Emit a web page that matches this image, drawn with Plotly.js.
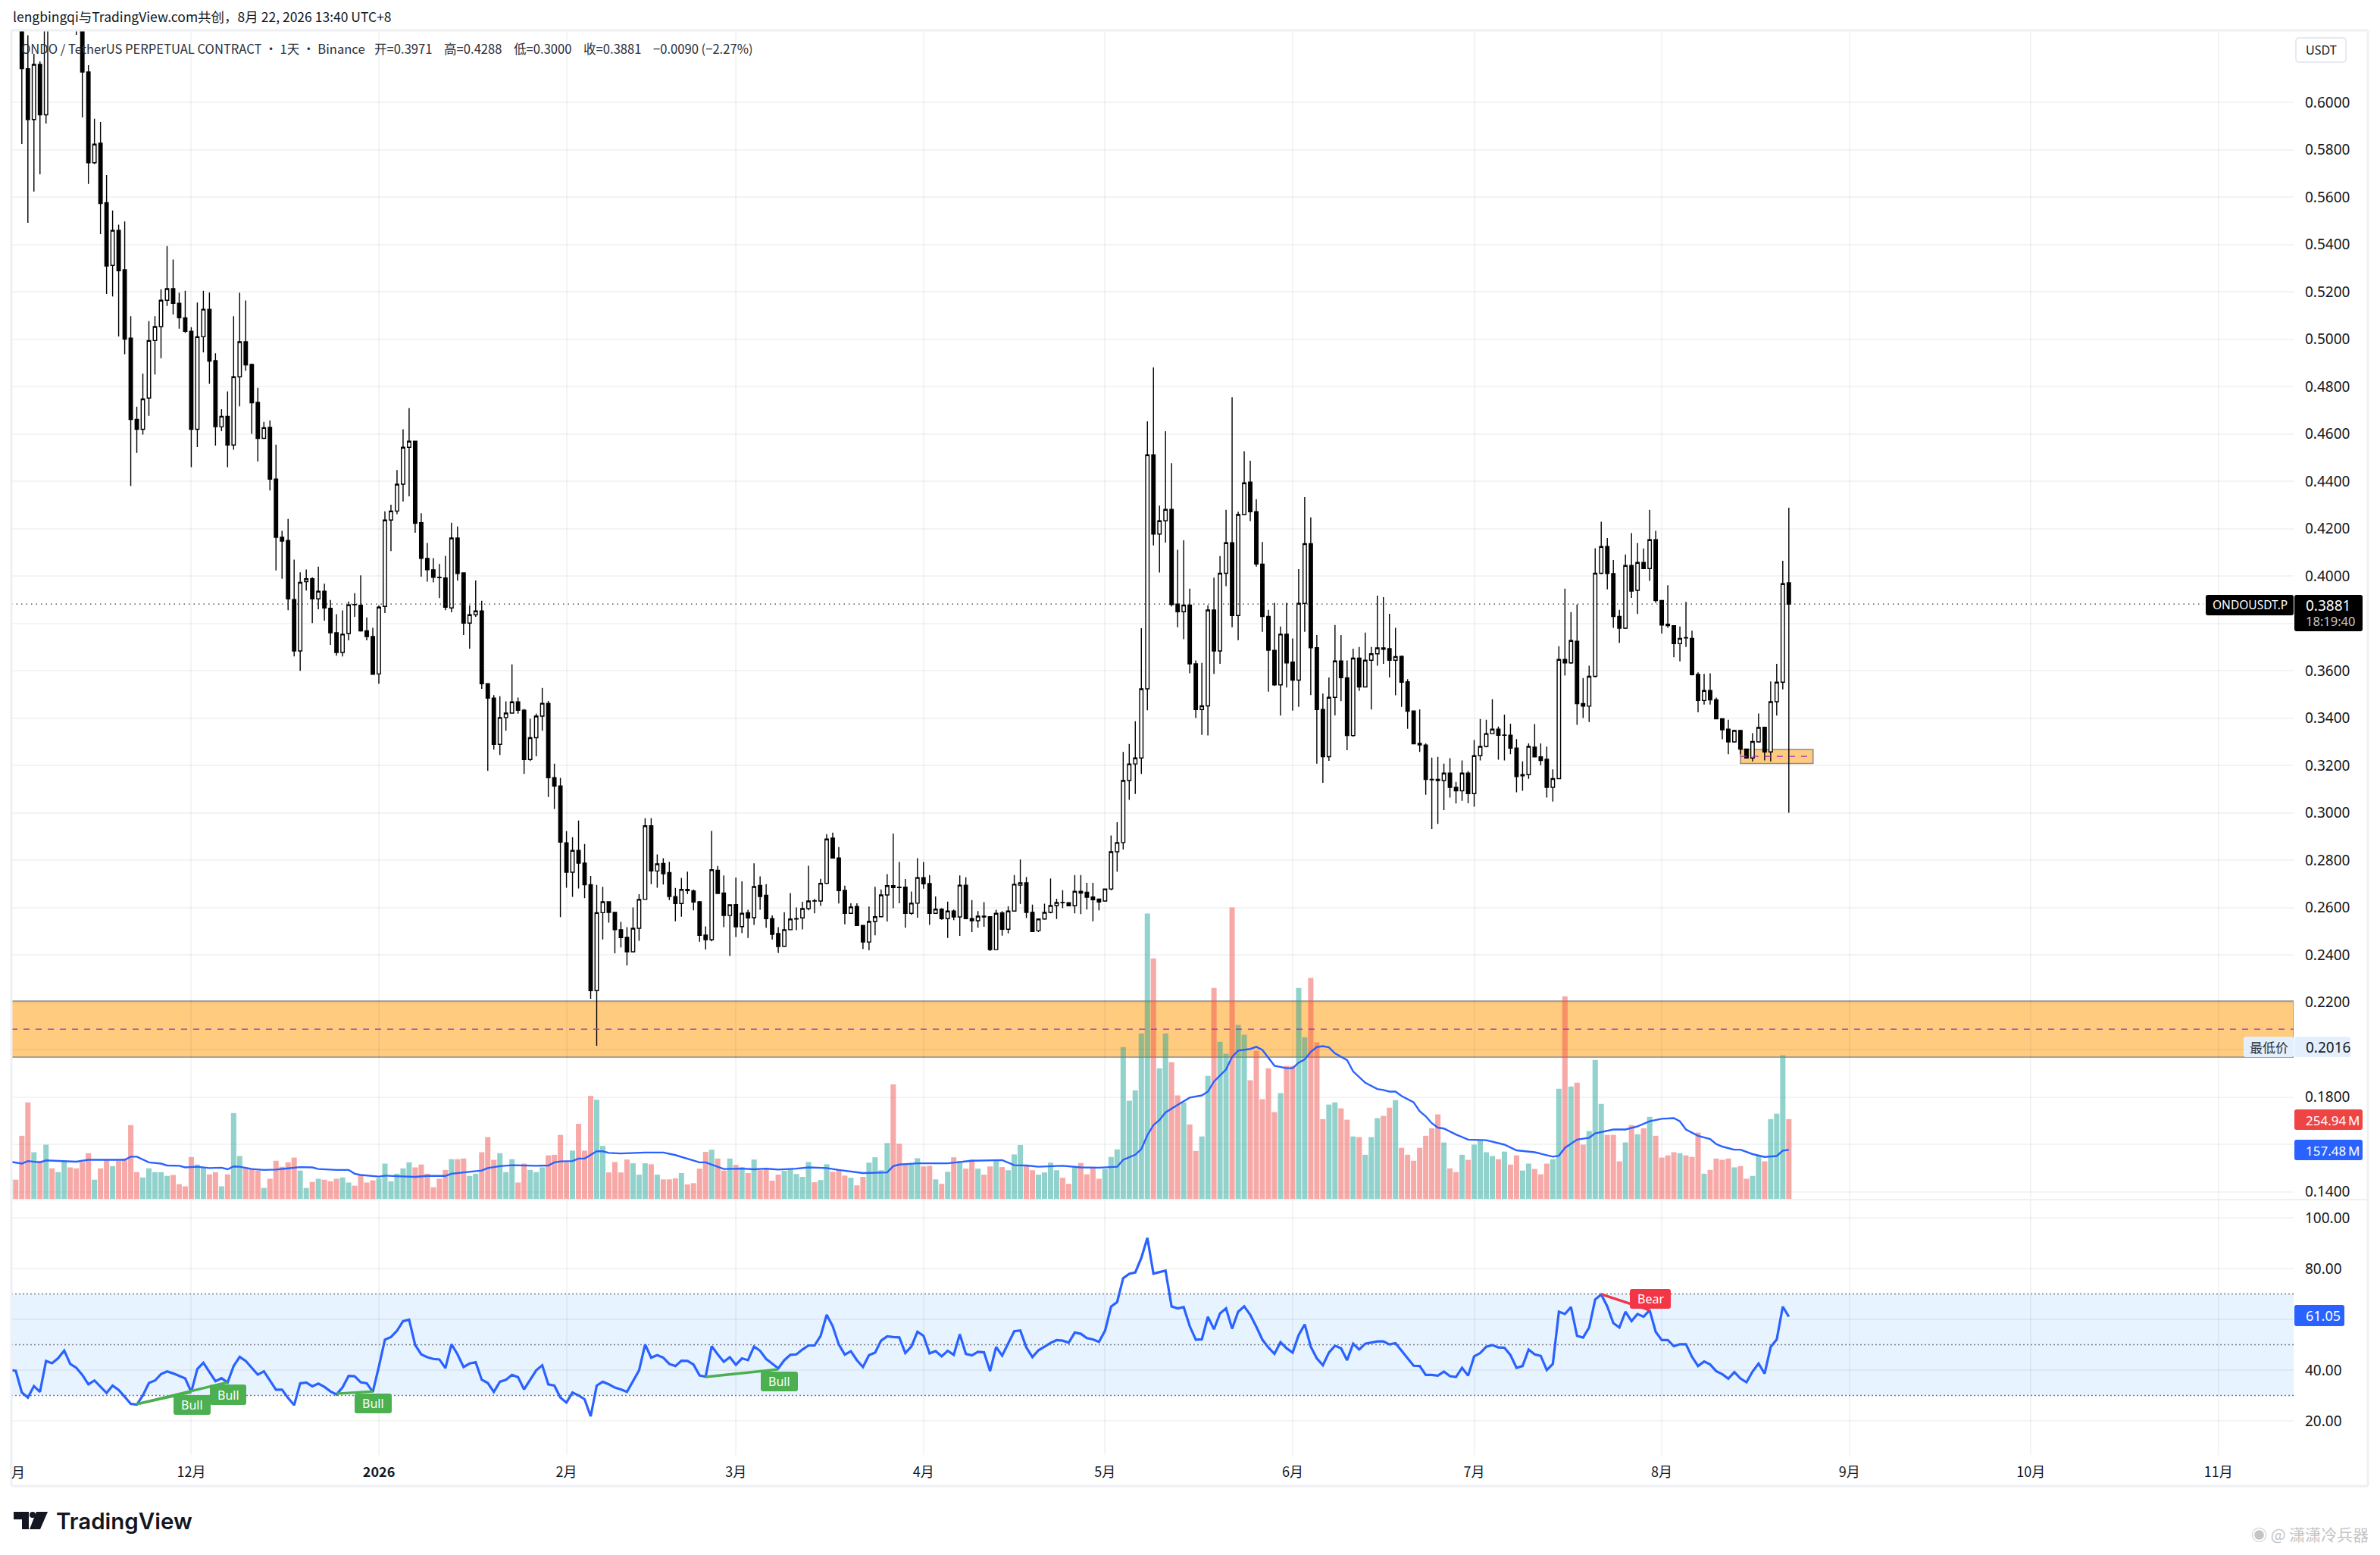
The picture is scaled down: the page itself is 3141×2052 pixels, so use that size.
<!DOCTYPE html>
<html><head><meta charset="utf-8"><script src="https://cdn.plot.ly/plotly-3.0.1.min.js"></script>
<style>html,body{margin:0;padding:0;background:#fff}#c{width:3141px;height:2052px}</style></head>
<body><div id="c"></div><script>
const firstDate='2025-11-01';
const opens=[.64,.65,.64,.6142,.5927,.616,.5947,.67,.65,.665,
.68,.66,.645,.6128,.5745,.5827,.5576,.5311,.5459,.5293,
.5004,.4661,.4619,.4751,.4994,.5053,.5164,.5213,.5151,.509,
.5033,.4619,.501,.5126,.4909,.463,.4674,.4553,.4841,.4989,
.4893,.4733,.4581,.4627,.4409,.4163,.415,.39,.3683,.3976,
.3988,.3903,.3935,.3863,.376,.3677,.3757,.3879,.3876,.3768,
.3744,.3586,.3871,.4236,.4274,.4387,.4543,.4569,.4225,.4074,
.4026,.3994,.3991,.3865,.416,.4013,.3801,.3836,.3852,.3545,
.3484,.3289,.3402,.3421,.3468,.3433,.3225,.3317,.3408,.3462,
.3148,.3113,.2873,.2749,.2841,.2787,.2696,.2249,.2578,.2624,
.2579,.2506,.2474,.2413,.2512,.2634,.2945,.2754,.2786,.2747,
.2646,.2617,.2676,.267,.2624,.2483,.2464,.2757,.2661,.2566,
.2612,.2519,.2578,.2557,.2693,.2651,.2553,.249,.2436,.2506,
.2551,.2556,.2595,.2628,.2627,.2702,.2893,.2809,.2672,.2575,
.2604,.2524,.2454,.2541,.2561,.2653,.2692,.2686,.2686,.2575,
.2618,.2726,.2701,.2575,.2593,.2553,.2585,.256,.2694,.2553,
.2544,.2563,.2561,.2422,.2577,.2508,.2585,.2694,.2704,.2579,
.2502,.2551,.2579,.2608,.2621,.262,.2607,.2668,.2664,.2644,
.2635,.2627,.2678,.2835,.2874,.3136,.3206,.3231,.3523,.4511,
.4177,.4233,.4281,.3881,.3849,.3877,.3629,.3436,.3451,.3856,
.3683,.4011,.414,.3833,.4259,.4396,.4271,.405,.3829,.3686,
.354,.3754,.3636,.356,.3884,.4136,.3697,.3436,.3237,.3487,
.3641,.357,.3326,.3653,.3531,.3644,.3671,.3696,.3693,.3644,
.366,.3553,.343,.3293,.3286,.3141,.3141,.3136,.3167,.3107,
.3093,.3167,.3081,.3241,.328,.3334,.3353,.3327,.3327,.3273,
.3156,.3161,.3277,.3236,.3226,.3107,.3144,.3647,.3633,.3724,
.3461,.345,.3576,.4011,.4124,.401,.3829,.3779,.4044,.3939,
.4057,.4031,.4153,.3896,.3796,.379,.3714,.3739,.3736,.3584,
.3474,.3516,.3477,.3397,.3353,.3299,.3347,.3269,.3231,.3299,
.3361,.3257,.3469,.3551,.3971];
const highs=[.66,.66,.66,.6283,.6205,.6173,.67,.69,.675,.69,
.7,.675,.66,.6157,.593,.5917,.5693,.5543,.5483,.5497,
.5097,.4714,.4854,.5076,.5097,.521,.5393,.5336,.5196,.5204,
.505,.5154,.5204,.5197,.494,.4704,.4779,.5097,.5196,.5163,
.4897,.4794,.465,.4657,.4554,.419,.4241,.4069,.4015,.4027,
.3994,.4039,.3967,.3898,.3838,.3854,.3892,.3927,.4002,.3825,
.3781,.3876,.4273,.4301,.4447,.4619,.4709,.457,.4265,.4139,
.4075,.405,.4085,.4225,.4209,.4013,.3875,.3981,.3895,.3545,
.3497,.3492,.347,.3626,.3486,.3438,.3397,.3418,.3527,.3472,
.3207,.3147,.2922,.2897,.2967,.2868,.2733,.2695,.2687,.2626,
.258,.2539,.2517,.26,.2656,.2977,.2977,.2824,.2808,.2793,
.2682,.2725,.2751,.2676,.2627,.252,.2923,.2775,.2735,.2612,
.2726,.271,.259,.2786,.2731,.2698,.2566,.2517,.258,.2661,
.26,.2624,.2776,.2637,.2721,.291,.2916,.2855,.2692,.2618,
.2618,.2524,.2604,.2687,.2676,.2741,.2912,.2792,.272,.2667,
.2808,.2792,.2737,.2646,.2597,.2625,.2591,.2735,.2727,.2631,
.2585,.2622,.2562,.259,.2585,.2605,.2737,.2802,.2729,.2612,
.2553,.2616,.2722,.2637,.2673,.262,.2737,.2737,.2704,.2704,
.2637,.2678,.2904,.296,.3257,.329,.3386,.3779,.4653,.4881,
.4297,.4611,.4476,.411,.415,.3946,.3643,.3633,.3876,.3993,
.4084,.4279,.4754,.4271,.4526,.4486,.4324,.4143,.3857,.3886,
.3786,.3886,.3736,.4029,.4333,.4247,.375,.3503,.3571,.3793,
.375,.3643,.3693,.37,.3761,.37,.3917,.391,.384,.3781,
.3664,.3564,.343,.3436,.3293,.3233,.3236,.3207,.323,.313,
.3221,.3176,.3307,.3396,.3393,.3479,.3364,.3414,.3376,.3311,
.3217,.3293,.3374,.3293,.3279,.3183,.3703,.3946,.3847,.3879,
.3569,.3621,.4117,.4229,.416,.4067,.3857,.409,.4181,.4139,
.4116,.4279,.419,.3896,.3961,.379,.3786,.389,.3769,.3593,
.3586,.3589,.3486,.3397,.3393,.335,.335,.3271,.3336,.3419,
.3363,.3554,.3629,.4064,.4288];
const lows=[.635,.635,.5824,.5491,.5623,.5696,.591,.645,.64,.655,
.655,.6285,.5936,.5655,.5739,.5443,.519,.518,.5011,.4936,
.438,.4519,.4597,.4676,.485,.4919,.514,.5104,.5044,.5026,
.4459,.4544,.4944,.4811,.455,.4611,.4459,.4533,.4716,.4866,
.46,.4483,.4579,.4361,.4023,.3988,.3855,.366,.3599,.3938,
.3801,.3859,.3811,.3709,.3663,.366,.3728,.3827,.3765,.3728,
.3582,.3545,.3843,.4105,.4261,.4314,.4336,.4182,.3997,.3976,
.3973,.3906,.3855,.3846,.398,.375,.3693,.3827,.3523,.3177,
.3266,.3244,.3346,.3418,.3418,.3164,.3218,.3238,.3346,.3066,
.3016,.2559,.2683,.2645,.268,.2639,.2214,.2016,.2465,.2536,
.2406,.2431,.2355,.2412,.2459,.2634,.2698,.2683,.2697,.2631,
.2542,.2561,.2657,.2588,.2455,.2422,.2457,.2658,.2517,.2395,
.2475,.2492,.2471,.2526,.259,.2514,.2465,.2408,.2435,.2505,
.2504,.2507,.2588,.2575,.2606,.2698,.2808,.2617,.2529,.2573,
.2523,.2425,.2419,.2482,.256,.2541,.2597,.2618,.2514,.2569,
.2557,.2679,.2526,.2574,.2548,.2471,.2546,.248,.2552,.2496,
.2514,.2518,.2416,.2421,.2481,.249,.2584,.2615,.2555,.2496,
.2496,.2548,.2575,.2551,.2597,.2606,.2575,.2572,.2591,.2542,
.2588,.2624,.2673,.2751,.2845,.3054,.3079,.3164,.3433,.4129,
.4014,.4141,.3871,.3783,.3733,.3589,.34,.3329,.3326,.3586,
.3629,.3957,.3783,.3729,.4257,.4231,.4039,.3764,.3511,.3536,
.341,.3529,.3431,.3447,.3764,.3497,.3207,.3126,.3219,.3411,
.3471,.3264,.3321,.3514,.3529,.3436,.3621,.3629,.3571,.3496,
.3447,.3354,.3289,.3257,.3076,.2931,.2953,.3011,.3064,.3039,
.305,.304,.3026,.3221,.3276,.3333,.3224,.3221,.3247,.3086,
.3093,.3143,.3236,.32,.3064,.3047,.3144,.3579,.3629,.3371,
.34,.3383,.3571,.4007,.3943,.3781,.3717,.3776,.3907,.3839,
.4029,.3979,.3886,.3757,.3781,.3657,.3639,.37,.358,.3424,
.3457,.3457,.3397,.331,.3247,.3296,.3247,.3231,.3217,.3296,
.3221,.3217,.341,.3521,.3];
const closes=[.65,.64,.6142,.5927,.616,.5947,.66,.65,.665,.68,
.66,.645,.6128,.5745,.5823,.5573,.5309,.5459,.5289,.5,
.4661,.4619,.4747,.4994,.5053,.5164,.5213,.5151,.509,.5033,
.4619,.501,.5126,.4907,.463,.4674,.4553,.4841,.4989,.4891,
.4731,.4581,.4626,.4409,.4163,.4147,.3903,.3683,.3973,.3988,
.3903,.3935,.3865,.376,.3677,.3754,.3878,.3878,.3768,.3744,
.3585,.3868,.4236,.4274,.4387,.4543,.4569,.4222,.4074,.4026,
.3994,.3993,.3868,.416,.401,.3801,.3836,.3852,.3545,.3484,
.3289,.3402,.3421,.3468,.3433,.3225,.3317,.3408,.3462,.3148,
.3113,.2876,.2749,.2841,.2787,.2696,.2249,.2578,.2624,.2579,
.2506,.2473,.2413,.2512,.2634,.2945,.2754,.2784,.2742,.2646,
.2617,.2676,.2671,.2623,.2482,.2464,.2759,.2659,.2566,.2611,
.2518,.2575,.2556,.2688,.2646,.2553,.2486,.2435,.2506,.2551,
.2553,.2595,.2627,.2627,.2702,.2889,.2809,.2671,.2575,.2602,
.2524,.2454,.2541,.2561,.2653,.2692,.2684,.2684,.2575,.2618,
.2726,.27,.2575,.2593,.2553,.2585,.256,.2694,.2553,.2544,
.2563,.256,.2422,.2575,.2508,.2585,.2698,.2704,.2579,.2498,
.2551,.2579,.2608,.2621,.262,.2607,.2668,.2661,.2643,.2633,
.2623,.2678,.2835,.2874,.3136,.3206,.3231,.3523,.4511,.4177,
.4233,.4281,.3879,.3849,.3877,.3629,.3436,.3451,.3856,.3683,
.4011,.414,.3833,.4259,.4393,.4271,.405,.3829,.3686,.354,
.3754,.3633,.356,.3884,.4136,.3697,.3436,.3237,.3487,.3641,
.357,.3326,.3653,.3531,.3644,.3671,.3696,.369,.3644,.3659,
.3551,.3429,.3291,.3286,.3141,.3139,.3136,.3167,.3107,.3093,
.3167,.3081,.3241,.328,.3334,.3353,.3327,.3328,.3273,.3153,
.3161,.328,.3236,.3221,.3107,.3144,.3647,.3633,.3727,.3461,
.345,.3576,.4011,.4124,.401,.3829,.3779,.4044,.3936,.4057,
.4031,.4153,.3896,.3793,.379,.3714,.3736,.3738,.3583,.3474,
.3516,.3477,.3397,.335,.3299,.3347,.3269,.3231,.3301,.336,
.3257,.3469,.3551,.3967,.3881];
const volumes=[70,63,202,308,150,123,174,99,87,120,
102,99,119,147,63,99,126,106,123,130,
236,87,70,99,87,87,75,78,49,42,
135,111,102,80,87,42,80,274,138,102,
99,92,37,66,123,104,118,133,92,37,
56,66,63,58,66,70,54,44,78,54,
61,68,114,58,82,99,118,102,111,82,
39,66,94,128,128,130,75,82,150,198,
126,147,87,128,54,114,94,87,102,140,
142,205,118,155,240,155,328,316,170,86,
119,86,127,115,79,115,112,79,64,64,
67,84,48,52,98,151,158,130,92,130,
110,103,84,127,93,96,60,79,91,97,
81,72,119,55,62,112,88,94,76,69,
45,72,117,134,93,179,365,177,110,115,
131,105,107,64,50,88,134,122,98,127,
98,79,105,127,103,93,143,173,106,93,
79,86,117,93,69,50,103,116,80,102,
66,97,135,159,483,313,346,526,906,764,
416,526,435,330,308,238,154,200,392,670,
500,462,925,553,522,378,471,318,416,277,
337,423,423,670,514,702,498,255,301,308,
289,253,200,198,142,198,258,265,291,315,
164,142,123,164,202,226,270,181,99,87,
142,126,174,188,150,138,128,152,111,140,
92,114,97,80,114,128,351,644,358,370,
174,217,442,303,205,205,121,181,236,207,
226,262,202,133,140,150,147,140,135,212,
82,94,130,126,130,102,106,66,75,140,
121,255,272,457,254.94];
const rsi=[40.1,39.7,31.2,29.2,33.7,31.4,43.6,42.7,44.7,47.7,
42.4,40.9,38.1,34.4,35.9,33.4,31.0,33.9,32.2,29.5,
26.7,26.4,30.0,34.9,35.9,38.4,39.5,38.7,37.7,36.7,
31.4,40.4,42.9,39.1,35.6,36.8,35.1,41.6,45.2,43.6,
40.9,38.2,39.5,36.1,32.3,32.3,29.0,26.2,34.8,35.1,
33.6,34.7,33.4,31.6,30.4,33.2,37.7,37.6,35.2,34.8,
31.4,41.4,52.0,53.0,55.5,59.3,59.9,49.9,46.2,45.1,
44.4,44.2,40.8,50.2,46.2,41.2,42.6,43.1,36.2,34.9,
31.4,35.4,36.2,38.1,37.2,32.4,36.2,39.9,41.9,34.4,
33.9,29.2,27.2,31.2,30.0,28.5,21.8,33.9,35.4,34.4,
33.1,32.4,31.4,35.9,39.9,50.1,44.9,45.9,44.9,42.4,
41.6,43.7,43.6,42.2,37.9,37.4,49.4,46.2,43.3,45.1,
42.1,44.6,43.9,49.3,47.6,44.4,42.4,40.7,43.9,46.0,
46.2,48.1,49.7,49.7,53.5,61.8,57.3,50.1,46.1,47.4,
43.9,41.2,45.9,46.9,51.6,53.3,53.0,52.9,46.7,49.3,
55.1,53.5,46.6,47.5,45.4,47.6,46.0,54.1,46.4,45.8,
47.2,47.0,39.6,49.1,45.7,50.3,55.3,55.6,48.9,45.1,
47.8,49.2,50.7,51.8,51.6,50.8,54.8,54.3,52.6,52.1,
51.1,55.5,65.0,66.8,76.2,77.9,78.5,84.2,92.1,78.0,
78.6,79.2,65.1,64.3,64.8,57.3,52.0,52.1,61.0,56.1,
62.3,64.3,56.3,63.0,65.1,61.8,57.1,52.0,48.9,46.4,
51.0,48.6,46.9,53.8,58.0,49.2,44.6,41.9,46.9,49.6,
48.6,43.9,50.4,48.1,50.4,50.8,51.3,51.3,50.1,50.6,
47.6,44.9,41.7,41.6,38.1,38.1,37.8,39.4,37.6,37.3,
40.9,37.8,45.4,46.7,49.2,49.9,48.9,48.8,45.9,40.9,
41.6,48.1,46.2,45.6,40.0,42.4,63.0,62.1,64.8,53.5,
52.8,56.8,67.8,69.8,65.1,58.5,56.8,63.0,59.3,62.1,
61.0,63.6,55.1,51.8,51.8,49.4,50.2,50.2,45.2,41.6,
43.4,42.2,39.6,38.4,36.6,39.2,36.7,35.2,39.4,42.6,
38.6,49.1,52.1,65.0,61.05];
const maDays=[0,2,3,5,6,8,11,13,16,19,20,21,23,25,26,28,29,31,33,35,36,37,38,40,42,44,46,48,50,51,54,56,57,58,61,62,64,67,69,72,73,77,78,79,81,83,87,89,90,91,93,94,95,97,98,99,101,105,108,110,112,114,115,117,118,121,123,125,127,130,132,135,137,141,145,146,147,150,153,155,159,164,166,168,170,174,177,180,183,184,186,187,188,189,190,191,193,195,197,198,199,201,202,203,205,206,207,209,211,212,213,214,215,216,217,218,219,221,222,224,226,227,228,229,230,232,233,234,235,236,237,239,241,244,247,249,252,255,256,257,259,261,262,265,267,269,271,273,275,276,277,279,281,282,283,285,286,288,290,292,293,294];
const maValues=[120,114,122,118,124,122,120,126,126,126,136,136,118,114,108,107,102,104,100,101,96,105,104,97,94,95,99,103,102,97,94,94,82,78,73,76,74,72,75,75,82,90,92,100,106,109,107,108,118,121,122,130,130,153,153,148,146,149,149,141,130,118,118,104,97,98,96,98,95,98,102,100,94,84,86,106,111,115,116,115,123,125,109,108,104,107,102,101,104,126,142,160,204,236,252,276,300,323,330,342,374,412,452,472,477,484,474,424,416,416,434,444,468,483,486,482,463,442,406,370,350,347,342,342,328,308,280,264,242,228,225,206,190,188,174,156,150,136,139,164,190,196,210,222,222,232,248,256,258,248,222,202,192,176,168,158,158,144,135,138,155,157.48];
const priceTicks=[.60,.58,.56,.54,.52,.50,.48,.46,.44,.42,.40,.38,.36,.34,.32,.30,.28,.26,.24,.22,.20,.18,.16,.14];
const hiddenPriceTicks=[.38,.20,.16];
const rsiTicks=[100,80,60,40,20];
const hiddenRsiTicks=[60];
const monthTickDates=['2025-12-01','2026-01-01','2026-02-01','2026-03-01','2026-04-01','2026-05-01','2026-06-01','2026-07-01','2026-08-01','2026-09-01','2026-10-01','2026-11-01'];
const monthTickLabels=['12月','<b>2026</b>','2月','3月','4月','5月','6月','7月','8月','9月','10月','11月'];
const bigZone=[.1968,.2086,.2205];
const smallZone=[.3208,.3238,.3267];
const smallZoneDates=['2026-08-14','2026-08-26'];
const lastPrice=.3881;
const divergences=[
 {days:[21,30],vals:[26.6,31.3],color:'#4caf50'},
 {days:[21,36],vals:[26.6,35.2],color:'#4caf50'},
 {days:[54,60],vals:[30.7,31.6],color:'#4caf50'},
 {days:[115,127],vals:[37.3,40.3],color:'#4caf50'},
 {days:[263,271],vals:[69.9,63.6],color:'#f23645'}];

const W=3141,H=2052,L=15,R=3027,T=40,B=1920,SEP=1583;
const px=x=>(x-L)/(R-L), py=y=>(B-y)/(B-T);
const dates=opens.map((_,i)=>new Date(Date.parse(firstDate+'T00:00:00Z')+i*864e5).toISOString().slice(0,10));
const xRange=['2025-11-01 06:30','2026-11-13 10:00'];
const sansCJK='"Noto Sans CJK SC","Noto Sans",sans-serif';
const tickFont='"Noto Sans","Noto Sans CJK SC",sans-serif';
const gridCol='rgba(42,46,57,.055)';

const traces=[
 {type:'bar',x:dates,y:volumes,xaxis:'x',yaxis:'y',marker:{color:closes.map((c,i)=>c>=opens[i]?'rgba(38,166,154,.5)':'rgba(239,83,80,.5)'),line:{width:0}},hoverinfo:'skip'},
 {type:'scatter',mode:'lines',x:maDays.map(d=>dates[d]),y:maValues,xaxis:'x',yaxis:'y',line:{color:'#2962ff',width:2.4},hoverinfo:'skip'},
 {type:'candlestick',x:dates,open:opens,high:highs,low:lows,close:closes,xaxis:'x',yaxis:'y2',whiskerwidth:0,
  increasing:{line:{color:'#000',width:1.4},fillcolor:'#fff'},decreasing:{line:{color:'#000',width:1.4},fillcolor:'#000'},hoverinfo:'skip'},
 {type:'scatter',mode:'lines',x:dates,y:rsi,xaxis:'x',yaxis:'y3',line:{color:'#2962ff',width:3.2},hoverinfo:'skip'}
];
divergences.forEach(d=>traces.push({type:'scatter',mode:'lines',x:d.days.map(i=>dates[i]),y:d.vals,xaxis:'x',yaxis:'y3',line:{color:d.color,width:3.4},hoverinfo:'skip'}));

const shapes=[];
const zone=(x0,x1,z)=>{
 shapes.push({type:'rect',xref:'x',yref:'y2',x0,x1,y0:z[0],y1:z[2],fillcolor:'rgba(255,152,0,.5)',line:{color:'#8c8c8c',width:1.6},layer:'below'});
 shapes.push({type:'line',xref:'x',yref:'y2',x0,x1,y0:z[1],y1:z[1],line:{color:'#a62bc4',width:1.2,dash:'8px,8px'},layer:'above'});
};
zone(xRange[0],xRange[1],bigZone);
zone(smallZoneDates[0],smallZoneDates[1],smallZone);
shapes.push({type:'rect',xref:'x',yref:'y3',x0:xRange[0],x1:xRange[1],y0:30,y1:70,fillcolor:'rgba(33,150,243,.11)',line:{width:0},layer:'below'});
[70,50,30].forEach(v=>shapes.push({type:'line',xref:'x',yref:'y3',x0:xRange[0],x1:xRange[1],y0:v,y1:v,line:{color:'#787b86',width:1.5,dash:'2px,3px'},layer:'between'}));
shapes.push({type:'line',xref:'paper',yref:'y2',x0:0,x1:px(2908),y0:lastPrice,y1:lastPrice,line:{color:'#333',width:1.2,dash:'1.5px,5px'},layer:'above'});
const frame=(x0,y0,x1,y1,w)=>shapes.push({type:'line',xref:'paper',yref:'paper',x0:px(x0),x1:px(x1),y0:py(y0),y1:py(y1),line:{color:'#eef0f4',width:w},layer:'above'});
frame(L,T,3125,T,3);frame(L,1961,3125,1961,3);frame(L,T,L,1961,3);frame(3125,T,3125,1961,3);frame(L,SEP,3125,SEP,2);
const rr=(x0,y0,x1,y1,r,fill,line)=>shapes.push({type:'path',xref:'paper',yref:'paper',layer:'above',fillcolor:fill,line:line||{width:0},
 path:`M${px(x0+r)},${py(y0)} L${px(x1-r)},${py(y0)} Q${px(x1)},${py(y0)} ${px(x1)},${py(y0+r)} L${px(x1)},${py(y1-r)} Q${px(x1)},${py(y1)} ${px(x1-r)},${py(y1)} L${px(x0+r)},${py(y1)} Q${px(x0)},${py(y1)} ${px(x0)},${py(y1-r)} L${px(x0)},${py(y0+r)} Q${px(x0)},${py(y0)} ${px(x0+r)},${py(y0)} Z`});
const poly=(pts,fill)=>shapes.push({type:'path',xref:'paper',yref:'paper',layer:'above',fillcolor:fill,line:{width:0},path:'M'+pts.map(p=>px(p[0])+','+py(p[1])).join(' L')+' Z'});

const ann=[];
const text=(x,y,t,o={})=>ann.push(Object.assign({xref:'paper',yref:'paper',x:px(x),y:py(y),text:t,showarrow:false,xanchor:'left',yanchor:'middle',align:'left',
 font:{family:o.family||tickFont,size:o.size||19,color:o.color||'#131722',weight:o.weight||400}},o.xanchor?{xanchor:o.xanchor}:{}));
const tag=(x0,y0,x1,y1,r,fill,t,o={})=>{rr(x0,y0,x1,y1,r,fill,o.line);text((x0+x1)/2,(y0+y1)/2,t,Object.assign({xanchor:'center'},o));};

text(15,22,'lengbingqi与TradingView.com共创，8月 22, 2026 13:40 UTC+8',{family:sansCJK,size:17.5,color:'#131722'});
const legendOpts={family:sansCJK,size:16.6,color:'#2a2e39'};
text(26,64,'ONDO / TetherUS PERPETUAL CONTRACT · 1天 · Binance',legendOpts);
text(492,64,'开=0.3971',legendOpts);
text(584,64,'高=0.4288',legendOpts);
text(676,64,'低=0.3000',legendOpts);
text(768,64,'收=0.3881',legendOpts);
text(860,64,'−0.0090 (−2.27%)',legendOpts);
tag(3030,50,3096,82,4,'#fff','USDT',{size:16,line:{color:'#e0e3eb',width:1.5}});
tag(2911,785,3027,812,3,'#000','ONDOUSDT.P',{size:15.5,color:'#fff'});
rr(3028,785,3118,833,3,'#000');
text(3041,799,'0.3881',{size:19,color:'#fff'});
text(3041,819,'18:19:40',{size:16.5,color:'#c8c9cc'});
tag(2961,1368,3027,1395,3,'#e3effd','最低价',{family:sansCJK,size:17,color:'#2a2e39'});
rr(3028,1368,3102,1395,3,'#e3effd');
text(3041,1382,'0.2016',{size:19,color:'#131722'});
rr(3028,1464,3118,1491,3,'#ef4444');
text(3041,1478,'254.94\u2009M',{size:17,color:'#fff'});
rr(3028,1504,3118,1531,3,'#2962ff');
text(3041,1518,'157.48\u2009M',{size:17,color:'#fff'});
rr(3028,1722,3094,1750,3,'#2962ff');
text(3041,1736,'61.05',{size:18,color:'#fff'});
tag(229,1841,278,1867,3,'#4caf50','Bull',{size:16,color:'#fff'});
tag(277,1827,325,1854,3,'#4caf50','Bull',{size:16,color:'#fff'});
tag(468,1839,517,1865,3,'#4caf50','Bull',{size:16,color:'#fff'});
tag(1004,1810,1053,1836,3,'#4caf50','Bull',{size:16,color:'#fff'});
tag(2151,1701,2205,1727,3,'#f23645','Bear',{size:16,color:'#fff'});
text(13,1942,'月',{family:sansCJK,size:18});
poly([[18,1995],[38,1995],[38,2018],[29,2018],[29,2005],[18,2005]],'#131722');
rr(39,1995,47,2003,4,'#131722');
poly([[48,1995],[63,1995],[53,2018],[39,2018]],'#131722');
text(72,2007,'TradingView',{family:'Inter,Roboto,sans-serif',size:29.5,weight:600,color:'#131722'});
text(3128,2024,'◉ @ 潇潇冷兵器',{family:sansCJK,size:21,color:'#c4c4c4',xanchor:'right'});

const layout={width:W,height:H,margin:{l:L,r:W-R,t:T,b:H-B,pad:0},paper_bgcolor:'#fff',plot_bgcolor:'rgba(0,0,0,0)',showlegend:false,
 bargap:.12,boxgap:.2,dragmode:false,font:{family:tickFont,color:'#131722'},
 xaxis:{type:'date',range:xRange,anchor:'y3',rangeslider:{visible:false},tickmode:'array',tickvals:monthTickDates,ticktext:monthTickLabels,
  showgrid:true,gridcolor:gridCol,gridwidth:2,showline:false,zeroline:false,ticks:'',ticklabelstandoff:10,tickfont:{family:sansCJK,size:18,color:'#131722'}},
 yaxis:{domain:[py(SEP),1],range:[0,(SEP-T)*2.4],visible:false,fixedrange:true},
 yaxis2:{overlaying:'y',side:'right',anchor:'x',range:[.6-(SEP-135)/3125,.6+(135-T)/3125],tickmode:'array',tickvals:priceTicks,
  ticktext:priceTicks.map(v=>hiddenPriceTicks.includes(v)?'':v.toFixed(4)),showgrid:true,gridcolor:gridCol,gridwidth:2,zeroline:false,showline:false,ticks:'',ticklabelstandoff:14,tickfont:{family:tickFont,size:19,color:'#131722'}},
 yaxis3:{domain:[0,py(SEP)],side:'right',anchor:'x',range:[100-(B-1607)/3.35,100+(1607-SEP)/3.35],tickmode:'array',tickvals:rsiTicks,
  ticktext:rsiTicks.map(v=>hiddenRsiTicks.includes(v)?'':v.toFixed(2)),showgrid:true,gridcolor:gridCol,gridwidth:2,zeroline:false,showline:false,ticks:'',ticklabelstandoff:14,tickfont:{family:tickFont,size:19,color:'#131722'}},
 shapes,annotations:ann};
Plotly.newPlot('c',traces,layout,{staticPlot:true,displayModeBar:false});
</script></body></html>
